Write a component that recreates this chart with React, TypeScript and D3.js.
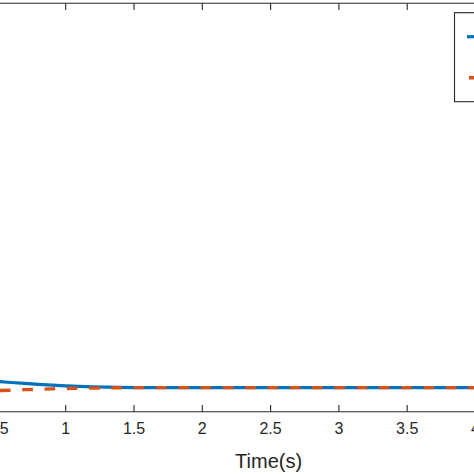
import React from "react";
import { scaleLinear, line } from "d3";

// sampled time points (s)
const TIME = [0, 0.25, 0.5, 0.6, 0.7, 0.8, 0.9, 1.0, 1.1, 1.2, 1.3, 1.4, 1.5, 1.75, 2, 2.5, 3, 3.5, 4, 4.5, 5];
// solid blue response
const SERIES_A = [0.045, 0.034, 0.0258, 0.0216, 0.0175, 0.0137, 0.0104, 0.0075, 0.005, 0.0033, 0.002, 0.001, 0.0004, 0.0001, 0, 0, 0, 0, 0, 0, 0];
// dashed orange response
const SERIES_B = [-0.02, -0.016, -0.012, -0.0104, -0.0083, -0.0067, -0.005, -0.0037, -0.0025, -0.0017, -0.0008, -0.0004, 0, 0, 0, 0, 0, 0, 0, 0, 0];
const LEGEND = ["Actual", "Desired"];
const X_TICKS = [0, 0.5, 1, 1.5, 2, 2.5, 3, 3.5, 4, 4.5, 5];
const Y_TICKS = [0, 0.2, 0.4, 0.6, 0.8, 1, 1.2, 1.4, 1.6];

const W = 474;
const H = 474;
const PLOT = { left: -70.9, right: 612.1, top: 3.2, bottom: 411.7 };
const AXIS_COLOR = "#262626";
const FONT = "'Liberation Sans', Arial, Helvetica, sans-serif";

export default function App() {
  const x = scaleLinear().domain([0, 5]).range([PLOT.left, PLOT.right]);
  const y = scaleLinear().domain([-0.1, 1.6]).range([PLOT.bottom, PLOT.top]);

  const pathA = line<number>()
    .x((_, i) => x(TIME[i]))
    .y((d) => y(d))(SERIES_A) || "";
  const pathB = line<number>()
    .x((_, i) => x(TIME[i]))
    .y((d) => y(d))(SERIES_B) || "";

  const tickLen = 6.7;
  const legendLeft = 454.5;
  const legendTop = 12.7;

  return (
    <div style={{ position: "absolute", left: 0, top: 0, width: W, height: H, overflow: "hidden", background: "#fff" }}>
      <svg width={W} height={H} style={{ display: "block" }}>
        <rect x={0} y={0} width={W} height={H} fill="#fff" />

        {/* data lines */}
        <path d={pathA} fill="none" stroke="#0072BD" strokeWidth={3.2} />
        <path d={pathB} fill="none" stroke="#D95319" strokeWidth={3.4} strokeDasharray="10.6 11.7" strokeDashoffset={-4} />

        {/* axes box */}
        <g stroke={AXIS_COLOR} strokeWidth={1.1} fill="none">
          <line x1={PLOT.left} x2={PLOT.right} y1={PLOT.bottom} y2={PLOT.bottom} />
          <line x1={PLOT.left} x2={PLOT.right} y1={PLOT.top} y2={PLOT.top} />
          <line x1={PLOT.left} x2={PLOT.left} y1={PLOT.top} y2={PLOT.bottom} />
          <line x1={PLOT.right} x2={PLOT.right} y1={PLOT.top} y2={PLOT.bottom} />
        </g>

        {/* x ticks */}
        {X_TICKS.map((t) => (
          <g key={t}>
            <line x1={x(t)} x2={x(t)} y1={PLOT.bottom} y2={PLOT.bottom - tickLen} stroke={AXIS_COLOR} strokeWidth={1.1} />
            <line x1={x(t)} x2={x(t)} y1={PLOT.top} y2={PLOT.top + tickLen} stroke={AXIS_COLOR} strokeWidth={1.1} />
            <text x={x(t)} y={434} textAnchor="middle" fontSize={16} fontFamily={FONT} fill={AXIS_COLOR}>
              {String(t)}
            </text>
          </g>
        ))}

        {/* y ticks (outside the visible crop) */}
        {Y_TICKS.map((v) => (
          <g key={v}>
            <line x1={PLOT.left} x2={PLOT.left + tickLen} y1={y(v)} y2={y(v)} stroke={AXIS_COLOR} strokeWidth={1.1} />
            <text x={PLOT.left - 6} y={y(v) + 5} textAnchor="end" fontSize={16} fontFamily={FONT} fill={AXIS_COLOR}>
              {String(v)}
            </text>
          </g>
        ))}

        <text x={(PLOT.left + PLOT.right) / 2 - 2} y={467.5} textAnchor="middle" fontSize={20} fontFamily={FONT} fill={AXIS_COLOR}>
          Time(s)
        </text>

        {/* legend */}
        <rect x={legendLeft} y={legendTop} width={140} height={89} fill="#fff" stroke={AXIS_COLOR} strokeWidth={1.1} />
        <line x1={legendLeft + 12.5} x2={legendLeft + 42} y1={36.7} y2={36.7} stroke="#0072BD" strokeWidth={3.2} />
        <line x1={legendLeft + 14.5} x2={legendLeft + 42} y1={77.7} y2={77.7} stroke="#D95319" strokeWidth={3.4} strokeDasharray="10.6 5" />
        {LEGEND.map((name, i) => (
          <text key={name} x={legendLeft + 50} y={[36.7, 77.7][i] + 5} fontSize={16} fontFamily={FONT} fill={AXIS_COLOR}>
            {name}
          </text>
        ))}
      </svg>
    </div>
  );
}
